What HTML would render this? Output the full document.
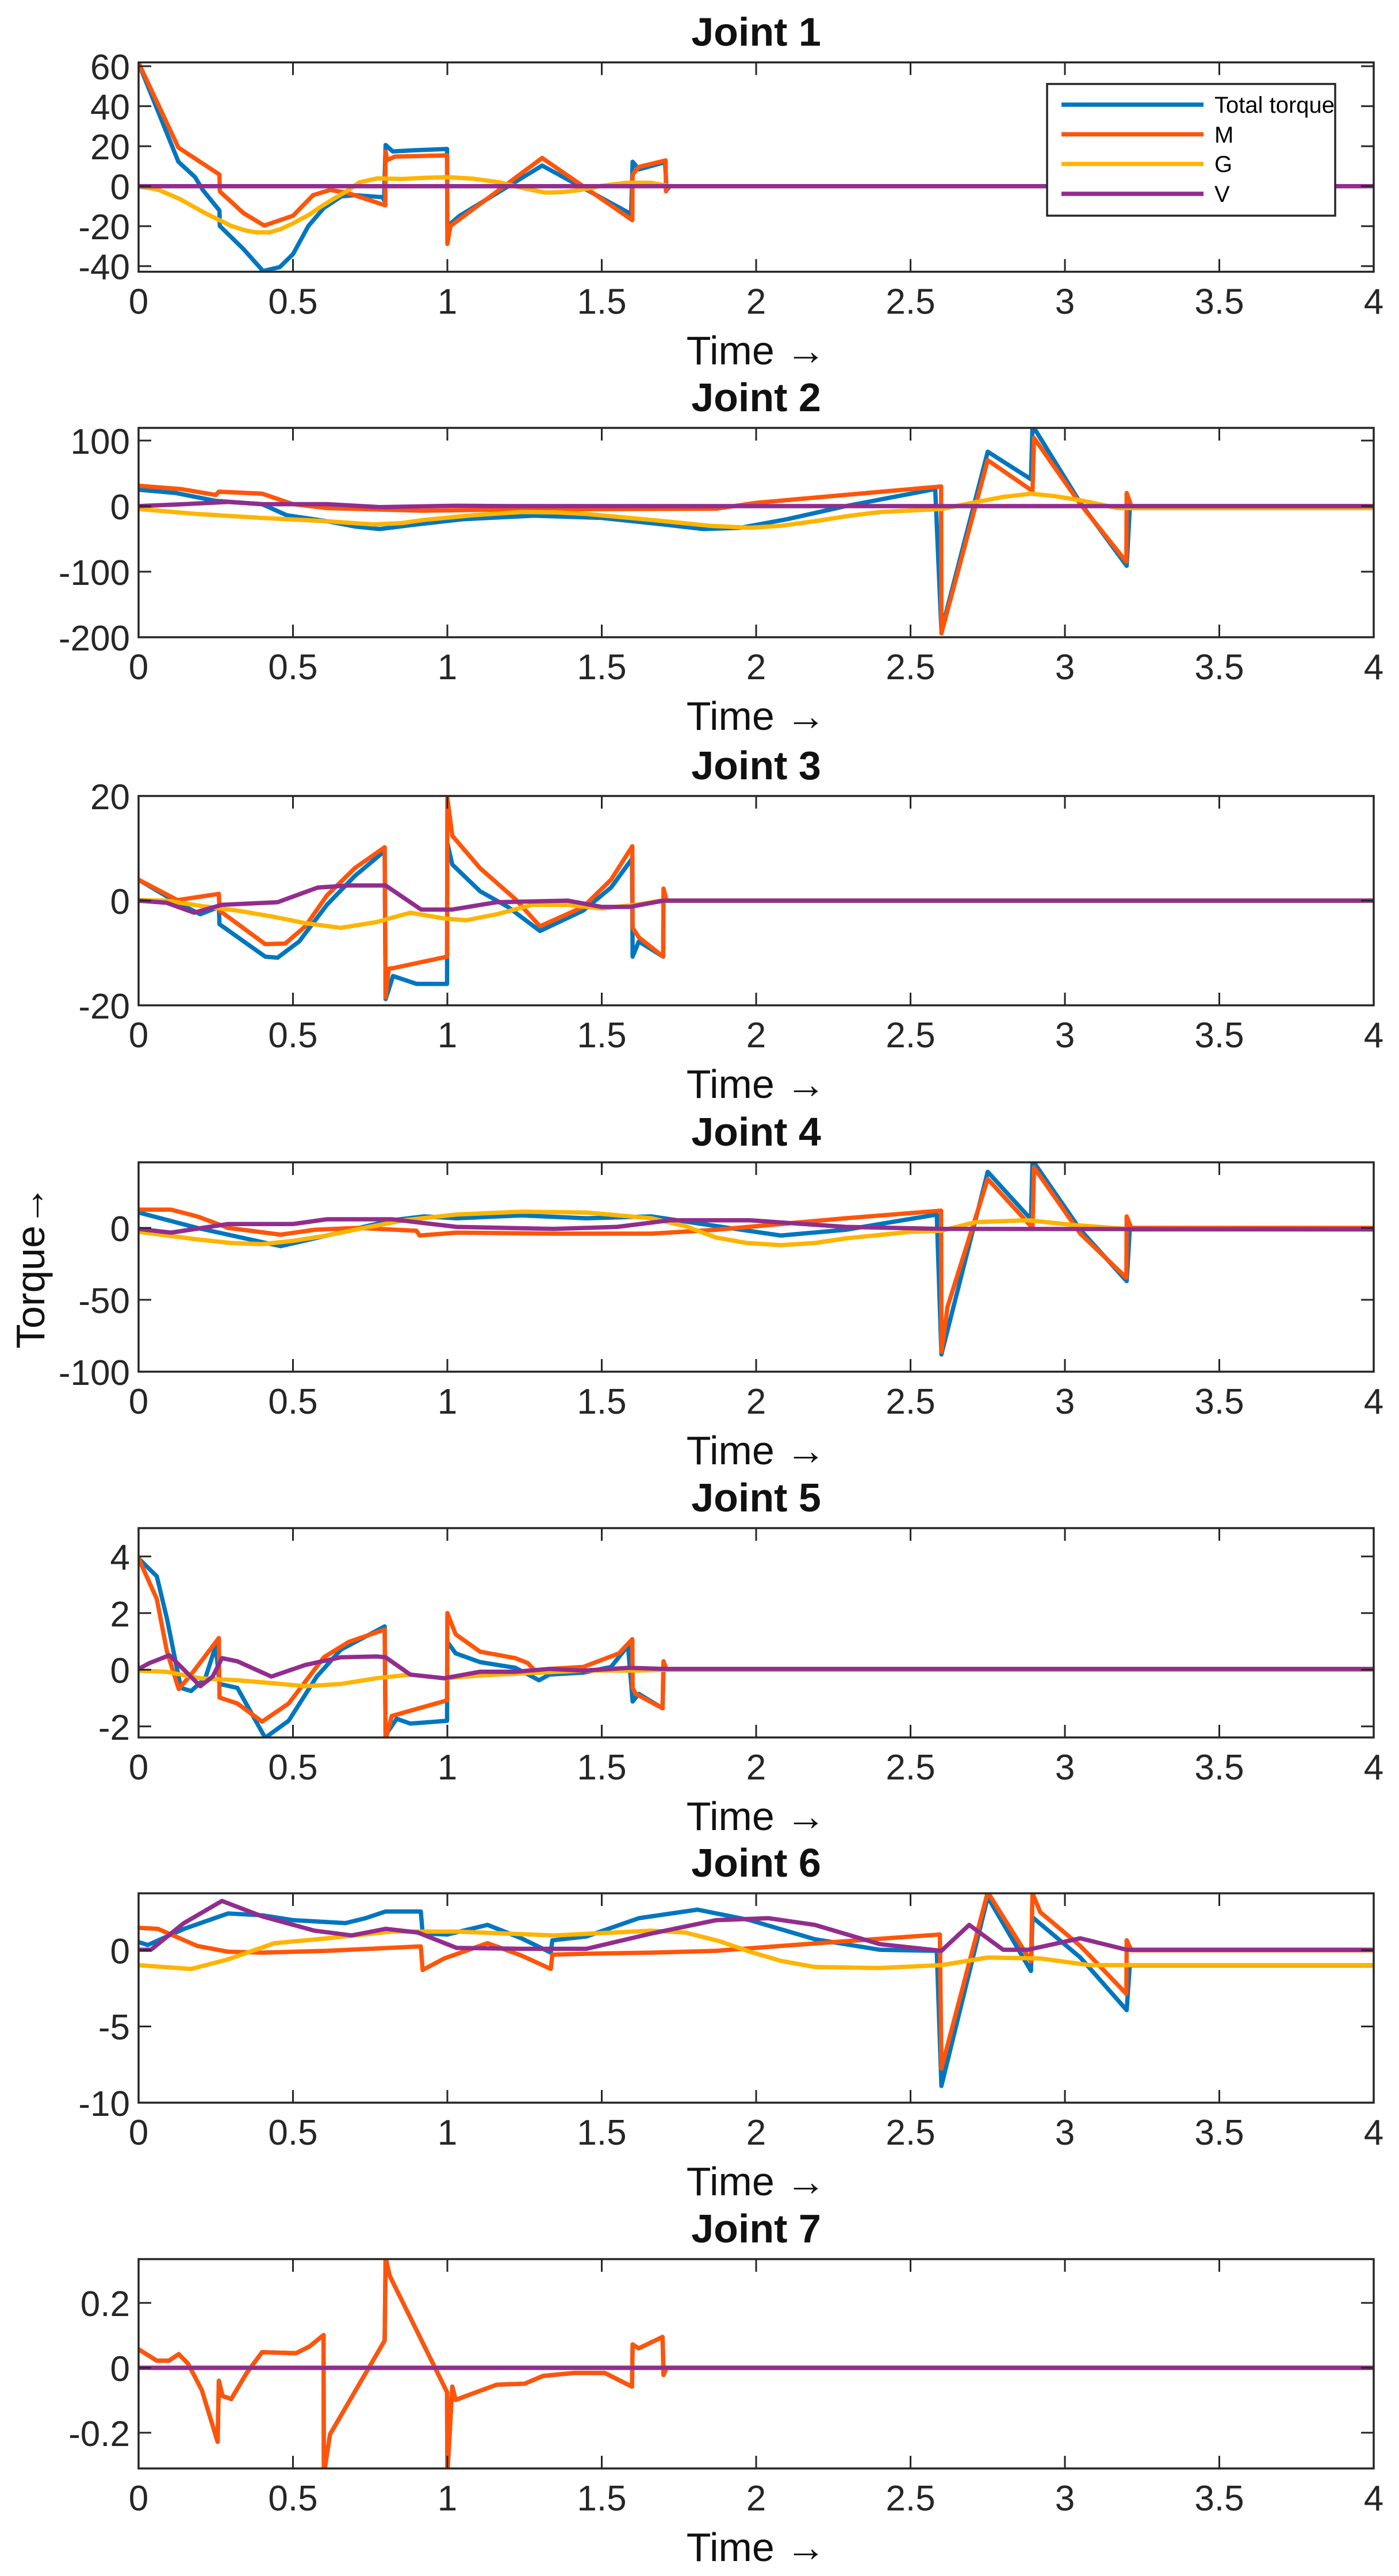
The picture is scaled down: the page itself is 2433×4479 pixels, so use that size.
<!DOCTYPE html>
<html><head><meta charset="utf-8"><style>
html,body{margin:0;padding:0;background:#fff}
svg{display:block}
polyline{vector-effect:non-scaling-stroke;fill:none;stroke-width:7.5px;stroke-linejoin:round;stroke-linecap:butt}
.b{stroke:#0076C0}.o{stroke:#FF550A}.y{stroke:#FFB400}.p{stroke:#922D8D}
text{font-family:"Liberation Sans",Arial,sans-serif;fill:#262626}
.tk{font-size:62px}
.tt{font-size:70px;font-weight:bold;fill:#111}
.xl{font-size:70px;fill:#111}
.lg{font-size:40px;fill:#000}
.box{fill:none;stroke:#262626;stroke-width:3.5}
.tks{fill:none;stroke:#262626;stroke-width:3}
</style></head><body>
<svg width="2433" height="4479" viewBox="0 0 2433 4479" xmlns="http://www.w3.org/2000/svg">
<defs>
<clipPath id="c1"><rect x="241" y="108.5" width="2148" height="364"/></clipPath>
<clipPath id="c2"><rect x="241" y="744" width="2148" height="364"/></clipPath>
<clipPath id="c3"><rect x="241" y="1384" width="2148" height="364"/></clipPath>
<clipPath id="c4"><rect x="241" y="2021" width="2148" height="364"/></clipPath>
<clipPath id="c5"><rect x="241" y="2657" width="2148" height="364"/></clipPath>
<clipPath id="c6"><rect x="241" y="3292" width="2148" height="364"/></clipPath>
<clipPath id="c7"><rect x="241" y="3928" width="2148" height="364"/></clipPath>
<path id="xt" d="M241,0v22M241,364v-22M509.5,0v22M509.5,364v-22M778,0v22M778,364v-22M1046.5,0v22M1046.5,364v-22M1315,0v22M1315,364v-22M1583.5,0v22M1583.5,364v-22M1852,0v22M1852,364v-22M2120.5,0v22M2120.5,364v-22M2389,0v22M2389,364v-22"/>
<g id="xlab">
<text class="tk" text-anchor="middle" x="241">0</text>
<text class="tk" text-anchor="middle" x="509.5">0.5</text>
<text class="tk" text-anchor="middle" x="778">1</text>
<text class="tk" text-anchor="middle" x="1046.5">1.5</text>
<text class="tk" text-anchor="middle" x="1315">2</text>
<text class="tk" text-anchor="middle" x="1583.5">2.5</text>
<text class="tk" text-anchor="middle" x="1852">3</text>
<text class="tk" text-anchor="middle" x="2120.5">3.5</text>
<text class="tk" text-anchor="middle" x="2389">4</text>
</g>
</defs>
<rect width="2433" height="4479" fill="#fff"/>

<!-- ================= Panel 1 ================= -->
<text class="tt" x="1315" y="79.5" text-anchor="middle">Joint 1</text>
<g clip-path="url(#c1)"><g transform="translate(241,323.7) scale(537,-3.4766)">
<polyline class="b" points="0,61.5 0.129,12.2 0.183,4.5 0.208,-1.9 0.262,-12.2 0.263,-19.9 0.34,-31.5 0.403,-42.4 0.457,-40.5 0.5,-34 0.55,-19.9 0.6,-10.9 0.657,-5.1 0.7,-4.5 0.79,-5.5 0.795,-7 0.8,20.6 0.823,17.4 0.9,18 0.999,18.6 1.0,-20 1.04,-14.8 1.307,10.3 1.59,-13.5 1.595,-15 1.6,12.2 1.62,8.4 1.705,12 1.71,-2 1.72,0 4,0"/>
<polyline class="o" points="0,61.7 0.129,19.3 0.262,5.8 0.263,-2.6 0.34,-13.5 0.407,-19.7 0.5,-14.8 0.565,-4.5 0.62,-1.9 0.673,-3.2 0.799,-9.6 0.8,17.4 0.805,13 0.83,14.8 0.999,15.4 1.0,-28.9 1.01,-19.9 1.307,14.1 1.599,-17 1.6,5.8 1.62,9.6 1.707,12.9 1.708,-2.6 1.715,0 4,0"/>
<polyline class="y" points="0,0 0.066,-1.9 0.133,-6.4 0.216,-13.5 0.3,-19.9 0.35,-22.3 0.382,-23.1 0.424,-23.1 0.46,-21.5 0.5,-18.6 0.55,-14.5 0.59,-10.3 0.633,-6.2 0.673,-2.6 0.715,1.9 0.773,3.9 0.85,3.6 0.93,4.2 1.0,4.5 1.08,3.8 1.17,1.9 1.24,-0.8 1.316,-3.2 1.37,-3.0 1.43,-1.9 1.5,0.2 1.58,1.7 1.66,1.7 1.72,0 4,0"/>
<polyline class="p" points="0,0 4,0"/>
</g></g>
<rect class="box" x="241" y="108.5" width="2148" height="364"/>
<use href="#xt" class="tks" transform="translate(0,108.5)"/>
<path class="tks" d="M241,115.1h22M2389,115.1h-22M241,184.6h22M2389,184.6h-22M241,254.2h22M2389,254.2h-22M241,323.7h22M2389,323.7h-22M241,393.2h22M2389,393.2h-22M241,462.8h22M2389,462.8h-22"/>
<text class="tk" text-anchor="end" x="226" y="138">60</text>
<text class="tk" text-anchor="end" x="226" y="207.5">40</text>
<text class="tk" text-anchor="end" x="226" y="277">20</text>
<text class="tk" text-anchor="end" x="226" y="346.5">0</text>
<text class="tk" text-anchor="end" x="226" y="416">-20</text>
<text class="tk" text-anchor="end" x="226" y="485.5">-40</text>
<use href="#xlab" transform="translate(0,545.5)"/>
<text class="xl" x="1315" y="633.5" text-anchor="middle">Time →</text>
<!-- legend -->
<rect x="1821" y="146" width="501" height="229" fill="#fff" stroke="#262626" stroke-width="3.5"/>
<line x1="1846" y1="182" x2="2093" y2="182" stroke="#0076C0" stroke-width="7.5"/>
<line x1="1846" y1="233.5" x2="2093" y2="233.5" stroke="#FF550A" stroke-width="7.5"/>
<line x1="1846" y1="285" x2="2093" y2="285" stroke="#FFB400" stroke-width="7.5"/>
<line x1="1846" y1="337" x2="2093" y2="337" stroke="#922D8D" stroke-width="7.5"/>
<text class="lg" x="2112" y="196">Total torque</text>
<text class="lg" x="2112" y="248">M</text>
<text class="lg" x="2112" y="299">G</text>
<text class="lg" x="2112" y="351">V</text>

<!-- ================= Panel 2 ================= -->
<text class="tt" x="1315" y="715" text-anchor="middle">Joint 2</text>
<g clip-path="url(#c2)"><g transform="translate(241,880) scale(537,-1.14)">
<polyline class="b" points="0,25 0.12,20 0.25,8 0.4,3 0.48,-14 0.61,-23 0.7,-31 0.78,-35 0.9,-28 1.05,-20 1.28,-14.6 1.5,-18 1.7,-28 1.83,-35 1.95,-33 2.1,-20 2.29,0 2.58,26 2.6,-190 2.75,83 2.89,41 2.895,123 3.05,5 3.2,-91 3.21,-3 4,-3"/>
<polyline class="o" points="0,31 0.137,26 0.25,17 0.26,22 0.4,19 0.5,3 0.61,-3 0.92,-7 1.2,-5 1.87,-4 2.0,5 2.599,30 2.6,-194 2.75,70 2.895,23 2.9,104 3.05,3 3.199,-85 3.2,20 3.215,0 4,0"/>
<polyline class="y" points="0,-4.4 0.19,-12 0.4,-18 0.61,-23 0.76,-28 0.85,-26 0.925,-21 1.08,-14 1.24,-9 1.35,-9.5 1.45,-12 1.66,-21 1.85,-30 1.98,-33 2.08,-30 2.19,-23 2.3,-15 2.4,-9 2.6,-4.4 2.71,6 2.8,14 2.89,19 2.97,15 3.05,9 3.17,-3 4,-3"/>
<polyline class="p" points="0,0 0.147,3 0.29,6.4 0.4,3 0.61,3 0.78,-1.5 1.03,0.6 1.2,0 4,0"/>
</g></g>
<rect class="box" x="241" y="744" width="2148" height="364"/>
<use href="#xt" class="tks" transform="translate(0,744)"/>
<path class="tks" d="M241,766h22M2389,766h-22M241,880h22M2389,880h-22M241,994h22M2389,994h-22"/>
<text class="tk" text-anchor="end" x="226" y="789">100</text>
<text class="tk" text-anchor="end" x="226" y="903">0</text>
<text class="tk" text-anchor="end" x="226" y="1017">-100</text>
<text class="tk" text-anchor="end" x="226" y="1131">-200</text>
<use href="#xlab" transform="translate(0,1181)"/>
<text class="xl" x="1315" y="1269" text-anchor="middle">Time →</text>

<!-- ================= Panel 3 ================= -->
<text class="tt" x="1315" y="1355" text-anchor="middle">Joint 3</text>
<g clip-path="url(#c3)"><g transform="translate(241,1566) scale(537,-9.1)">
<polyline class="b" points="0,4 0.126,-0.4 0.2,-2.6 0.26,-1.2 0.262,-4.5 0.41,-10.7 0.45,-10.9 0.52,-7.8 0.61,-0.8 0.70,4.7 0.797,9.5 0.8,-18.8 0.824,-14.4 0.90,-15.9 0.999,-15.9 1.0,11 1.016,6.9 1.106,1.8 1.196,-1.2 1.30,-5.8 1.44,-1.9 1.53,2.5 1.598,8 1.6,-10.7 1.62,-7.8 1.699,-10.7 1.7,0 4,0"/>
<polyline class="o" points="0,4.0 0.126,0.1 0.26,1.3 0.262,-1.9 0.41,-8.3 0.475,-8.2 0.54,-4.9 0.61,1 0.70,6.2 0.797,10.2 0.8,-18.5 0.81,-13 0.824,-12.9 0.999,-10.7 1.0,19.6 1.016,12.4 1.106,6.2 1.22,0.3 1.30,-4.9 1.44,-1.2 1.53,4 1.599,10.4 1.6,-5.2 1.62,-7 1.699,-10.7 1.7,2.3 1.71,0 4,0"/>
<polyline class="y" points="0,0.1 0.09,0 0.2,-1 0.32,-1.9 0.43,-3 0.54,-4.3 0.655,-5.2 0.77,-4.1 0.88,-2.3 0.99,-3.4 1.06,-3.75 1.16,-2.6 1.275,-0.8 1.39,-0.8 1.5,-1.5 1.61,-0.8 1.69,0 4,0"/>
<polyline class="p" points="0,0 0.09,-0.4 0.18,-2.3 0.27,-0.8 0.45,-0.3 0.58,2.5 0.68,2.9 0.8,2.9 0.915,-1.7 1.016,-1.7 1.16,-0.3 1.39,0 1.5,-1.2 1.59,-1.2 1.70,0 4,0"/>
</g></g>
<rect class="box" x="241" y="1384" width="2148" height="364"/>
<use href="#xt" class="tks" transform="translate(0,1384)"/>
<path class="tks" d="M241,1566h22M2389,1566h-22"/>
<text class="tk" text-anchor="end" x="226" y="1407">20</text>
<text class="tk" text-anchor="end" x="226" y="1589">0</text>
<text class="tk" text-anchor="end" x="226" y="1771">-20</text>
<use href="#xlab" transform="translate(0,1821)"/>
<text class="xl" x="1315" y="1909" text-anchor="middle">Time →</text>

<!-- ================= Panel 4 ================= -->
<text class="tt" x="1315" y="1992" text-anchor="middle">Joint 4</text>
<g clip-path="url(#c4)"><g transform="translate(241,2135) scale(537,-2.5)">
<polyline class="b" points="0,10.7 0.19,0 0.46,-12.7 0.61,-5.3 0.82,5.3 0.925,8 1.03,6.7 1.24,8.7 1.45,6.7 1.66,8 1.87,1.3 2.08,-5.3 2.29,-1.3 2.585,9.3 2.6,-88 2.75,39 2.89,6 2.895,47 3.05,-1.3 3.2,-37 3.21,-1 4,-1"/>
<polyline class="o" points="0,12.7 0.105,12.7 0.19,8 0.29,0 0.46,-4.7 0.57,-1.3 0.71,0 0.90,-2 0.91,-5.3 1.03,-3.3 1.345,-4 1.66,-4 1.87,-1.3 2.08,2.7 2.29,6.7 2.599,12 2.6,-86 2.62,-54.7 2.75,34 2.895,0 2.9,42 3.05,-4 3.199,-34.7 3.2,8 3.215,0 4,0"/>
<polyline class="y" points="0,-2.7 0.19,-8 0.30,-10.5 0.40,-11.3 0.5,-9 0.61,-5.3 0.73,0 0.86,5.3 1.03,9.3 1.24,11.3 1.45,10.7 1.66,6.7 1.77,1.3 1.87,-6.7 1.97,-10.5 2.08,-12 2.19,-10.5 2.29,-7.3 2.5,-2.7 2.6,-2 2.71,4 2.88,5.3 3.03,2 3.2,-0.7 4,-1"/>
<polyline class="p" points="0,-0.7 0.105,-3.3 0.29,2.7 0.5,2.7 0.61,6 0.82,6 1.03,0.7 1.345,-0.7 1.55,0.7 1.72,5.3 1.98,5.3 2.29,0.7 2.6,-0.7 4,-1"/>
</g></g>
<rect class="box" x="241" y="2021" width="2148" height="364"/>
<use href="#xt" class="tks" transform="translate(0,2021)"/>
<path class="tks" d="M241,2135h22M2389,2135h-22M241,2260h22M2389,2260h-22"/>
<text class="tk" text-anchor="end" x="226" y="2158">0</text>
<text class="tk" text-anchor="end" x="226" y="2283">-50</text>
<text class="tk" text-anchor="end" x="226" y="2408">-100</text>
<use href="#xlab" transform="translate(0,2458)"/>
<text class="xl" x="1315" y="2546" text-anchor="middle">Time →</text>
<text class="xl" transform="translate(77,2203) rotate(-90)" text-anchor="middle">Torque→</text>

<!-- ================= Panel 5 ================= -->
<text class="tt" x="1315" y="2628" text-anchor="middle">Joint 5</text>
<g clip-path="url(#c5)"><g transform="translate(241,2903.3) scale(537,-49.26)">
<polyline class="b" points="0,3.93 0.059,3.3 0.092,1.8 0.137,-0.64 0.17,-0.75 0.216,-0.3 0.25,0.85 0.262,-0.5 0.32,-0.64 0.41,-2.4 0.486,-1.8 0.577,-0.24 0.655,0.71 0.797,1.53 0.8,-2.3 0.836,-1.73 0.88,-1.9 0.999,-1.8 1.0,0.98 1.027,0.58 1.106,0.27 1.22,0.07 1.297,-0.37 1.33,-0.17 1.44,-0.1 1.53,0.1 1.585,0.85 1.6,-1.12 1.62,-0.85 1.697,-1.36 1.7,0 4,0"/>
<polyline class="o" points="0,3.93 0.059,2.5 0.092,0.64 0.13,-0.68 0.17,-0.17 0.26,1.12 0.262,-0.98 0.32,-1.19 0.40,-1.83 0.486,-1.19 0.6,0.44 0.68,0.98 0.797,1.42 0.8,-2.47 0.82,-1.63 0.999,-1.08 1.0,2.0 1.027,1.25 1.106,0.64 1.22,0.41 1.26,0.24 1.29,-0.1 1.33,0.03 1.44,0.1 1.556,0.58 1.599,1.08 1.6,-0.64 1.61,-0.85 1.697,-1.36 1.7,0.3 1.71,0 4,0"/>
<polyline class="y" points="0,-0.03 0.09,-0.07 0.2,-0.3 0.32,-0.37 0.43,-0.47 0.54,-0.58 0.655,-0.5 0.77,-0.3 0.88,-0.17 0.99,-0.3 1.106,-0.2 1.22,-0.14 1.44,-0.03 1.61,-0.03 1.7,0 4,0"/>
<polyline class="p" points="0,0.03 0.036,0.24 0.10,0.51 0.15,-0.03 0.2,-0.58 0.24,-0.24 0.27,0.41 0.32,0.3 0.43,-0.24 0.54,0.17 0.655,0.44 0.77,0.47 0.8,0.44 0.88,-0.17 0.99,-0.3 1.106,-0.07 1.22,-0.07 1.33,0.03 1.44,-0.03 1.59,0.07 1.7,0.03 4,0.03"/>
</g></g>
<rect class="box" x="241" y="2657" width="2148" height="364"/>
<use href="#xt" class="tks" transform="translate(0,2657)"/>
<path class="tks" d="M241,2706.3h22M2389,2706.3h-22M241,2804.8h22M2389,2804.8h-22M241,2903.3h22M2389,2903.3h-22M241,3001.8h22M2389,3001.8h-22"/>
<text class="tk" text-anchor="end" x="226" y="2729">4</text>
<text class="tk" text-anchor="end" x="226" y="2828">2</text>
<text class="tk" text-anchor="end" x="226" y="2926">0</text>
<text class="tk" text-anchor="end" x="226" y="3025">-2</text>
<use href="#xlab" transform="translate(0,3094)"/>
<text class="xl" x="1315" y="3182" text-anchor="middle">Time →</text>

<!-- ================= Panel 6 ================= -->
<text class="tt" x="1315" y="3263" text-anchor="middle">Joint 6</text>
<g clip-path="url(#c6)"><g transform="translate(241,3390.9) scale(537,-26.51)">
<polyline class="b" points="0,0.53 0.03,0.34 0.147,1.4 0.29,2.41 0.40,2.29 0.5,1.97 0.67,1.78 0.735,2.1 0.8,2.54 0.914,2.54 0.92,1.09 1.0,1.03 1.13,1.66 1.24,0.78 1.335,-0.16 1.34,0.65 1.45,0.9 1.62,2.1 1.81,2.66 1.98,1.97 2.19,0.72 2.4,0.03 2.585,-0.04 2.6,-8.9 2.75,3.48 2.89,-1.36 2.895,2.16 3.05,-0.48 3.2,-3.93 3.21,-1 4,-1"/>
<polyline class="o" points="0,1.47 0.063,1.4 0.19,0.28 0.29,-0.1 0.40,-0.16 0.61,-0.04 0.914,0.25 0.92,-1.3 0.99,-0.54 1.13,0.46 1.24,-0.35 1.335,-1.23 1.34,-0.29 1.45,-0.23 1.66,-0.16 1.87,-0.04 2.08,0.28 2.29,0.59 2.595,1.03 2.6,-7.76 2.75,3.8 2.89,-0.73 2.895,3.73 2.92,2.5 3.05,0.28 3.199,-2.86 3.2,0.65 3.215,0 4,0"/>
<polyline class="y" points="0,-0.98 0.17,-1.23 0.29,-0.6 0.44,0.46 0.61,0.78 0.82,1.22 1.03,1.22 1.345,0.97 1.66,1.28 1.77,1.16 1.88,0.6 1.98,-0.1 2.08,-0.7 2.19,-1.1 2.4,-1.17 2.6,-0.98 2.75,-0.48 2.92,-0.54 3.08,-0.98 4,-0.98"/>
<polyline class="p" points="0,0.03 0.04,0.03 0.147,1.78 0.27,3.23 0.40,2.22 0.57,1.28 0.69,0.97 0.8,1.4 0.904,1.16 1.03,0.15 1.24,0.09 1.45,0.09 1.66,1.09 1.87,1.97 2.04,2.1 2.19,1.66 2.4,0.4 2.6,-0.04 2.69,1.66 2.8,0.03 2.88,0.03 3.05,0.78 3.2,0.03 4,0.03"/>
</g></g>
<rect class="box" x="241" y="3292" width="2148" height="364"/>
<use href="#xt" class="tks" transform="translate(0,3292)"/>
<path class="tks" d="M241,3390.9h22M2389,3390.9h-22M241,3523.5h22M2389,3523.5h-22"/>
<text class="tk" text-anchor="end" x="226" y="3414">0</text>
<text class="tk" text-anchor="end" x="226" y="3546">-5</text>
<text class="tk" text-anchor="end" x="226" y="3679">-10</text>
<use href="#xlab" transform="translate(0,3729)"/>
<text class="xl" x="1315" y="3817" text-anchor="middle">Time →</text>

<!-- ================= Panel 7 ================= -->
<text class="tt" x="1315" y="3899" text-anchor="middle">Joint 7</text>
<g clip-path="url(#c7)"><g transform="translate(241,4117) scale(537,-564.3)">
<polyline class="b" points="0,0.057 0.059,0.022 0.098,0.022 0.13,0.042 0.16,0.013 0.205,-0.069 0.256,-0.228 0.26,-0.04 0.272,-0.087 0.30,-0.096 0.35,-0.016 0.40,0.048 0.51,0.045 0.554,0.066 0.599,0.101 0.6,-0.33 0.62,-0.205 0.797,0.084 0.8,0.34 0.813,0.284 0.999,-0.075 1.0,-0.33 1.016,-0.058 1.027,-0.099 1.06,-0.087 1.16,-0.052 1.25,-0.049 1.31,-0.025 1.41,-0.016 1.51,-0.016 1.598,-0.058 1.6,0.072 1.62,0.06 1.697,0.095 1.7,-0.022 1.71,0 4,0"/>
<polyline class="o" points="0,0.057 0.059,0.022 0.098,0.022 0.13,0.042 0.16,0.013 0.205,-0.069 0.256,-0.228 0.26,-0.04 0.272,-0.087 0.30,-0.096 0.35,-0.016 0.40,0.048 0.51,0.045 0.554,0.066 0.599,0.101 0.6,-0.33 0.62,-0.205 0.797,0.084 0.8,0.34 0.813,0.284 0.999,-0.075 1.0,-0.33 1.016,-0.058 1.027,-0.099 1.06,-0.087 1.16,-0.052 1.25,-0.049 1.31,-0.025 1.41,-0.016 1.51,-0.016 1.598,-0.058 1.6,0.072 1.62,0.06 1.697,0.095 1.7,-0.022 1.71,0 4,0"/>
<polyline class="y" points="0,0 4,0"/>
<polyline class="p" points="0,0 4,0"/>
</g></g>
<rect class="box" x="241" y="3928" width="2148" height="364"/>
<use href="#xt" class="tks" transform="translate(0,3928)"/>
<path class="tks" d="M241,4004.1h22M2389,4004.1h-22M241,4117h22M2389,4117h-22M241,4229.9h22M2389,4229.9h-22"/>
<text class="tk" text-anchor="end" x="226" y="4027">0.2</text>
<text class="tk" text-anchor="end" x="226" y="4140">0</text>
<text class="tk" text-anchor="end" x="226" y="4253">-0.2</text>
<use href="#xlab" transform="translate(0,4365)"/>
<text class="xl" x="1315" y="4453" text-anchor="middle">Time →</text>
</svg>
</body></html>
